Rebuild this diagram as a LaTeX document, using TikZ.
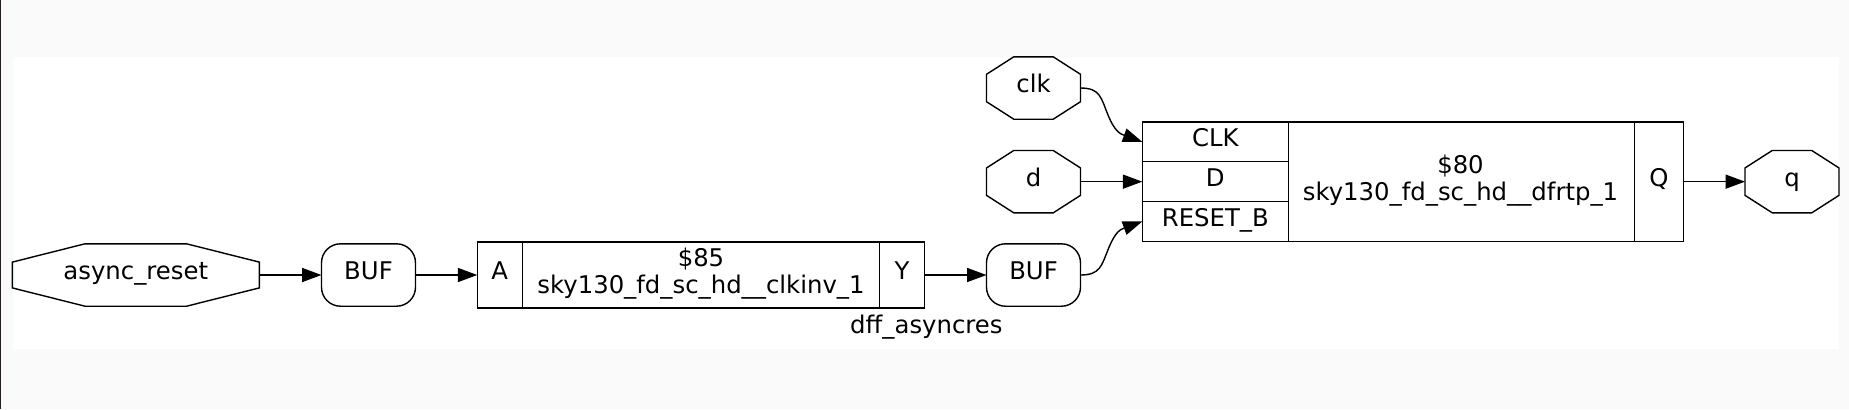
\documentclass[tikz,border=0pt]{standalone}
\usepackage{fontspec}
\setmainfont{DejaVu Sans}
\usetikzlibrary{calc}
\usetikzlibrary{arrows.meta}
\definecolor{pagegrey}{HTML}{FAFAFA}
\definecolor{edgeline}{HTML}{2A1A24}
\tikzset{
	every node/.style={font=\fontsize{12.17}{13.6}\selectfont, inner sep=0pt, outer sep=0pt},
	wire/.style={line width=0.7pt, ->, >={Triangle[length=9.7pt,width=7pt]}},
	lbl/.style={text height=8.9pt, text depth=4.2pt},
	cell/.style={draw, rectangle, line width=0.7pt, lbl},
	port/.style={rectangle, lbl, minimum height=31.2pt},
	bufbox/.style={draw, rectangle, rounded corners=9.5pt, line width=0.7pt, lbl, minimum width=47pt, minimum height=31.2pt}
}
% outline of a port: #1 node, #2 corner cut along x, #3 corner cut along y
\newcommand{\octagon}[3]{
	\draw[line width=0.7pt] ($(#1.north west)+(#2,0)$) -- ($(#1.north east)+(-#2,0)$)
		-- ($(#1.north east)+(0,#3)$) -- ($(#1.south east)+(0,-#3)$)
		-- ($(#1.south east)+(-#2,0)$) -- ($(#1.south west)+(#2,0)$)
		-- ($(#1.south west)+(0,-#3)$) -- ($(#1.north west)+(0,#3)$) -- cycle;
}
\begin{document}
\begin{tikzpicture}[x=0.5pt,y=-0.5pt]
	\useasboundingbox (0,0) rectangle (1849,409);
	\fill[pagegrey] (0,0) rectangle (1849,409);
	\fill[white] (13,56.7) rectangle (1839,348.7);
	\fill[edgeline] (0,0) rectangle (1.3,409);
	% ports
	\foreach \pname/\px/\py/\ptext in {clk/1033.5/88/clk,d/1033.5/181.65/d,q/1792/181.65/q}{
		\node[port, minimum width=47pt] (\pname) at (\px,\py) {\ptext};
		\octagon{\pname}{27.3}{17.5}
	}
	\node[port, minimum width=123.5pt] (async_reset) at (135.8,275) {async\_reset};
	\octagon{async_reset}{72.7}{18.3}
	% buffers
	\node[bufbox] (buf_in) at (368.5,275) {BUF};
	\node[bufbox] (buf_out) at (1033.5,275) {BUF};
	% inverter
	\node[cell, minimum width=22.5pt, minimum height=33pt] (inv_a) at (499.8,275) {A};
	\node[cell, minimum width=178.55pt, minimum height=33pt] (inv_body) at (700.85,275) {};
	\node[cell, minimum width=22.55pt, minimum height=33pt] (inv_y) at (902,275) {Y};
	\node[align=center] (inv_text) at (701,273.4) {\$85\\sky130\_fd\_sc\_hd\_\_clkinv\_1};
	% flip flop
	\node[cell, minimum width=73pt, minimum height=19.9pt] (ff_clk) at (1215.3,141.85) {CLK};
	\node[cell, minimum width=73pt, minimum height=19.9pt] (ff_d) at (1215.3,181.65) {D};
	\node[cell, minimum width=73pt, minimum height=19.9pt] (ff_rst) at (1215.3,221.45) {RESET\_B};
	\node[cell, minimum width=173.2pt, minimum height=59.7pt] (ff_body) at (1461.5,181.65) {};
	\node[cell, minimum width=24.3pt, minimum height=59.7pt] (ff_q) at (1659,181.65) {Q};
	\node[align=center] (ff_text) at (1460.5,180.4) {\$80\\sky130\_fd\_sc\_hd\_\_dfrtp\_1};
	\node (title) at (926.4,327.5) {dff\_asyncres};
	% wires
	\coordinate (clk_bend) at (1108,115);
	\coordinate (rst_bend) at (1108.5,248.5);
	\draw[wire] (async_reset.east) -- (buf_in.west);
	\draw[wire] (buf_in.east) -- (inv_a.west);
	\draw[wire] (inv_y.east) -- (buf_out.west);
	\draw[wire] (d.east) -- (ff_d.west);
	\draw[wire] (ff_q.east) -- (q.west);
	\draw[wire] (clk.east) .. controls +(20,0) and +(-7,-17) .. (clk_bend) .. controls +(7,17) and +(-22,-8) .. (ff_clk.west);
	\draw[wire] (buf_out.east) .. controls +(20,0) and +(-7,17) .. (rst_bend) .. controls +(7,-17) and +(-22,8) .. (ff_rst.west);
\end{tikzpicture}
\end{document}
